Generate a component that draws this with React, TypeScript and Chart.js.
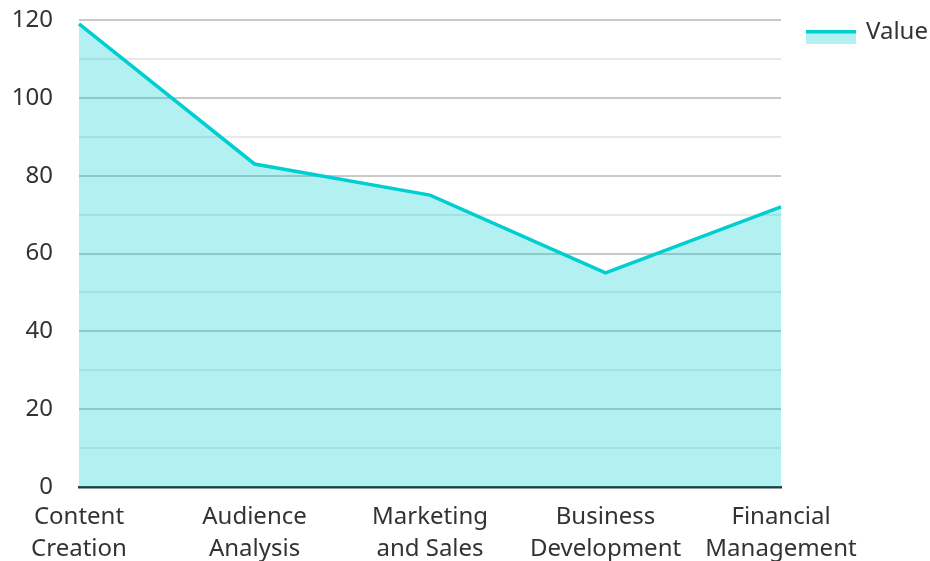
import React, { useEffect, useRef } from "react";
import { Chart, registerables } from "chart.js";

Chart.register(...registerables);

const categories: string[][] = [
  ["Content", "Creation"],
  ["Audience", "Analysis"],
  ["Marketing", "and Sales"],
  ["Business", "Development"],
  ["Financial", "Management"],
];
const values: number[] = [119, 83, 75, 55, 72];
const seriesName = "Value";
const yMin = 0;
const yMax = 120;
const yStep = 10;
const yLabelEvery = 20;

const LINE = "#00CED1";
const FILL = "rgba(0,206,209,0.3)";
const FONT = "'Noto Sans', 'Open Sans', sans-serif";
const TEXT = "#333333";

const legendPlugin = {
  id: "customLegend",
  afterDraw(chart: any) {
    const ctx = chart.ctx;
    const x = chart.chartArea.right + 25;
    const y = 30;
    ctx.save();
    ctx.fillStyle = FILL;
    ctx.fillRect(x, y, 50, 14);
    ctx.strokeStyle = LINE;
    ctx.lineWidth = 3.5;
    ctx.beginPath();
    ctx.moveTo(x, y + 1.75);
    ctx.lineTo(x + 50, y + 1.75);
    ctx.stroke();
    ctx.fillStyle = TEXT;
    ctx.font = `24px ${FONT}`;
    ctx.textBaseline = "middle";
    ctx.textAlign = "left";
    ctx.fillText(seriesName, x + 60, y + 2);
    ctx.restore();
  },
};

export default function App() {
  const ref = useRef<HTMLCanvasElement | null>(null);
  useEffect(() => {
    if (!ref.current) return;
    const chart = new Chart(ref.current, {
      type: "line",
      data: {
        labels: categories,
        datasets: [
          {
            label: seriesName,
            data: values,
            borderColor: LINE,
            backgroundColor: FILL,
            borderWidth: 3.5,
            fill: "origin",
            pointRadius: 0,
            tension: 0,
          },
        ],
      },
      options: {
        animation: false,
        responsive: true,
        maintainAspectRatio: false,
        layout: { padding: { top: 20, right: 149, bottom: 0, left: 0 } },
        plugins: { legend: { display: false }, tooltip: { enabled: false } },
        scales: {
          x: {
            offset: false,
            grid: { display: false, drawTicks: false },
            border: { display: true, color: "#333333", width: 2.5 },
            ticks: {
              color: TEXT,
              font: { family: FONT, size: 24, lineHeight: 1.3 },
              padding: 15,
              maxRotation: 0,
              autoSkip: false,
            },
            afterFit: (s: any) => {
              s.height = 74;
              s.paddingLeft = 0;
              s.paddingRight = 0;
            },
          },
          y: {
            min: yMin,
            max: yMax,
            border: { display: false },
            grid: {
              drawTicks: false,
              color: (c: any) =>
                c.tick && c.tick.value % yLabelEvery === 0 ? "#c8c8c8" : "#e8e8e8",
              lineWidth: 2,
            },
            ticks: {
              stepSize: yStep,
              autoSkip: false,
              padding: 26,
              color: TEXT,
              font: { family: FONT, size: 24 },
              callback: (v: any) => (Number(v) % yLabelEvery === 0 ? String(v) : ""),
            },
            afterFit: (s: any) => {
              s.width = 79;
              s.paddingTop = 0;
              s.paddingBottom = 0;
            },
          },
        },
      },
      plugins: [legendPlugin],
    });
    return () => chart.destroy();
  }, []);
  return (
    <div style={{ position: "fixed", left: 0, top: 0, width: 930, height: 561 }}>
      <canvas ref={ref} />
    </div>
  );
}
